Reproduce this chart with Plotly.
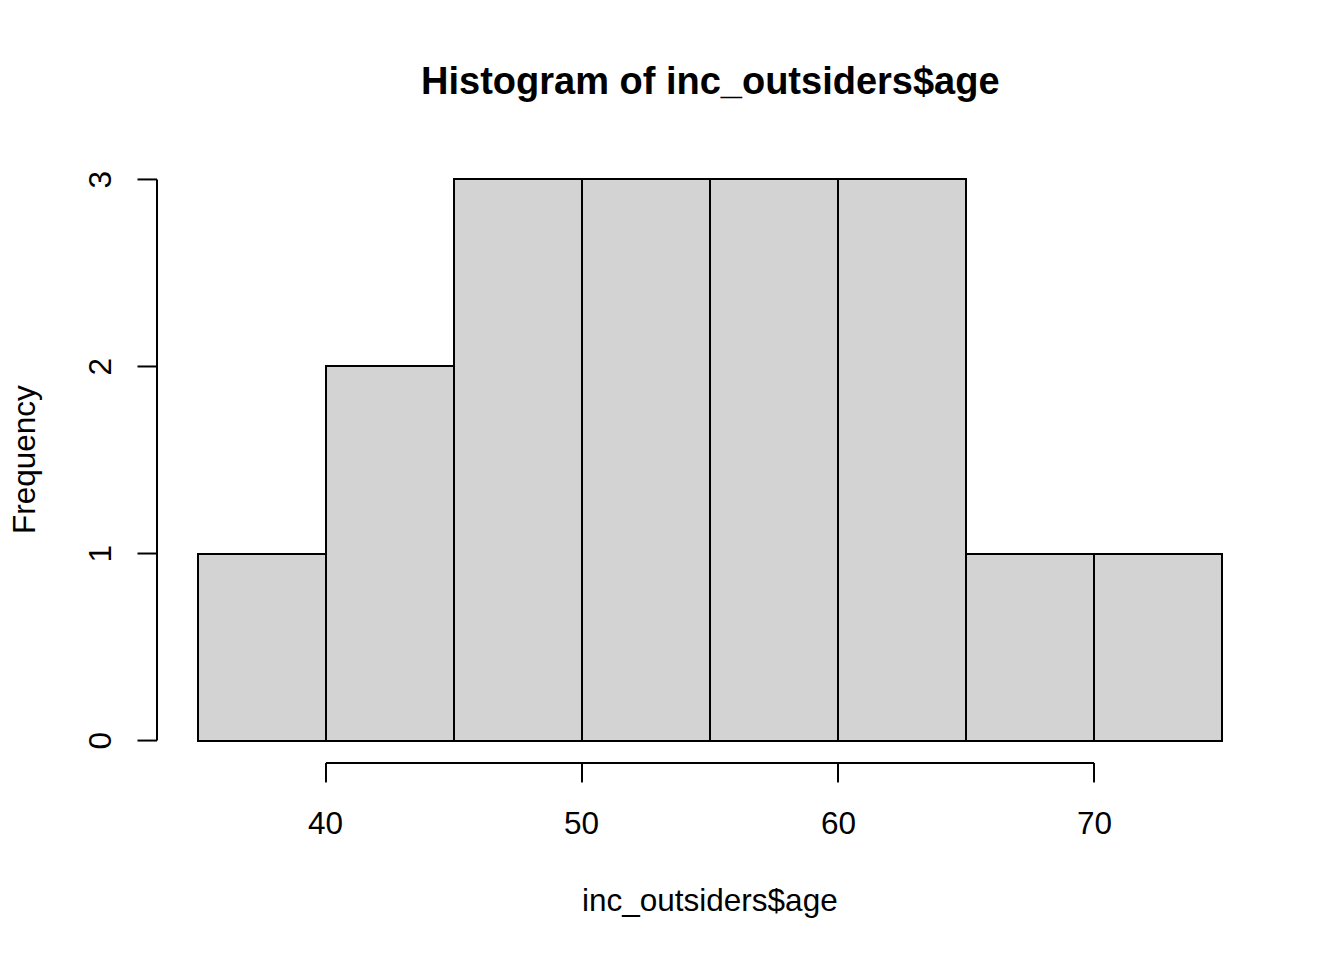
import plotly.graph_objects as go

bin_edges = [35, 40, 45, 50, 55, 60, 65, 70, 75]
counts = [1, 2, 3, 3, 3, 3, 1, 1]
x_ticks = [40, 50, 60, 70]
y_ticks = [0, 1, 2, 3]
title_text = "Histogram of inc_outsiders$age"
x_label = "inc_outsiders$age"
y_label = "Frequency"

mids = [(a + b) / 2 for a, b in zip(bin_edges[:-1], bin_edges[1:])]
widths = [b - a for a, b in zip(bin_edges[:-1], bin_edges[1:])]

FONT = "Liberation Sans, Arial, sans-serif"
LW = 2
FS = 31.5
TFS = 38

fig = go.Figure()
fig.add_trace(go.Bar(
    x=mids, y=counts, width=widths,
    marker=dict(color="#D3D3D3", line=dict(color="black", width=LW)),
    hoverinfo="skip",
))

xr = bin_edges[-1] - bin_edges[0]
x_range = [bin_edges[0] - 0.04 * xr, bin_edges[-1] + 0.04 * xr]
ymax = max(counts)
y_range = [-0.04 * ymax, ymax * 1.04]

plot_h = 607.0
plot_w = 1106.0
tick_len = 19.5

shapes = []
annotations = []
# x axis
shapes.append(dict(type="line", xref="x", yref="paper", x0=x_ticks[0], x1=x_ticks[-1],
                   y0=0, y1=0, line=dict(color="black", width=LW)))
for t in x_ticks:
    shapes.append(dict(type="line", xref="x", yref="paper", x0=t, x1=t,
                       y0=0, y1=-tick_len / plot_h, line=dict(color="black", width=LW)))
    annotations.append(dict(x=t, y=0, xref="x", yref="paper", text=str(t), showarrow=False,
                            yanchor="middle", yshift=-59.5,
                            font=dict(family=FONT, size=FS, color="black")))
# y axis
shapes.append(dict(type="line", xref="paper", yref="y", x0=0, x1=0,
                   y0=y_ticks[0], y1=y_ticks[-1], line=dict(color="black", width=LW)))
for t in y_ticks:
    shapes.append(dict(type="line", xref="paper", yref="y", x0=0, x1=-tick_len / plot_w,
                       y0=t, y1=t, line=dict(color="black", width=LW)))
    annotations.append(dict(x=0, y=t, xref="paper", yref="y", text=str(t), showarrow=False,
                            xanchor="center", xshift=-57, textangle=-90,
                            font=dict(family=FONT, size=FS, color="black")))
# axis labels
annotations.append(dict(x=0.5, y=0, xref="paper", yref="paper", text=x_label, showarrow=False,
                        yanchor="middle", yshift=-137, font=dict(family=FONT, size=FS, color="black")))
annotations.append(dict(x=0, y=0.5, xref="paper", yref="paper", text=y_label, showarrow=False,
                        xanchor="center", xshift=-133, textangle=-90,
                        font=dict(family=FONT, size=FS, color="black")))
annotations.append(dict(x=0.5, y=1, xref="paper", yref="paper", text="<b>" + title_text + "</b>",
                        showarrow=False, yanchor="middle", yshift=76.5,
                        font=dict(family=FONT, size=TFS, color="black")))

fig.update_layout(
    width=1344, height=960,
    margin=dict(l=157, r=81, t=156.5, b=196.5),
    paper_bgcolor="white", plot_bgcolor="white",
    showlegend=False,
    xaxis=dict(range=x_range, visible=False),
    yaxis=dict(range=y_range, visible=False),
    shapes=shapes, annotations=annotations,
    bargap=0,
)
fig.write_html("out.html")
